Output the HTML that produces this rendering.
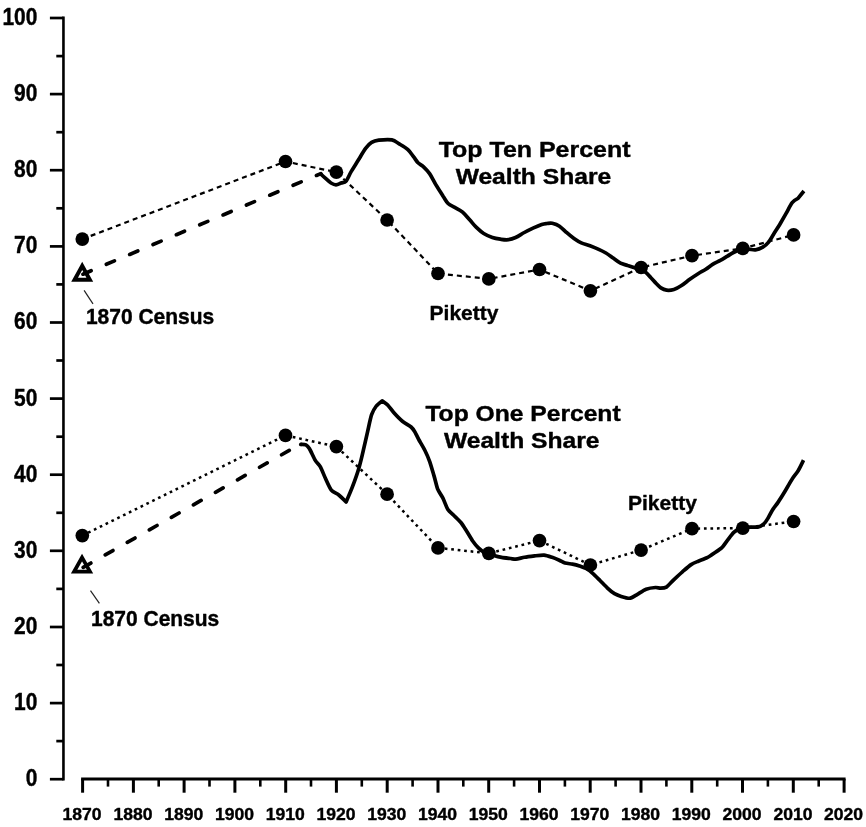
<!DOCTYPE html>
<html lang="en"><head><meta charset="utf-8"><title>Wealth Share</title>
<style>html,body{margin:0;padding:0;background:#fff}svg{display:block}</style>
</head><body>
<svg width="866" height="827" viewBox="0 0 866 827">
<rect width="866" height="827" fill="#fff"/>
<g stroke="#000" fill="none" stroke-linecap="butt">
<path stroke-width="2.6" d="M63.45 16.6 V780.6"/>
<path stroke-width="2.7" d="M49.9 779.2 H63.45"/>
<path stroke-width="2.7" d="M56.3 741.1 H63.45"/>
<path stroke-width="2.7" d="M49.9 703.1 H63.45"/>
<path stroke-width="2.7" d="M56.3 665.0 H63.45"/>
<path stroke-width="2.7" d="M49.9 627.0 H63.45"/>
<path stroke-width="2.7" d="M56.3 588.9 H63.45"/>
<path stroke-width="2.7" d="M49.9 550.8 H63.45"/>
<path stroke-width="2.7" d="M56.3 512.8 H63.45"/>
<path stroke-width="2.7" d="M49.9 474.7 H63.45"/>
<path stroke-width="2.7" d="M56.3 436.7 H63.45"/>
<path stroke-width="2.7" d="M49.9 398.6 H63.45"/>
<path stroke-width="2.7" d="M56.3 360.5 H63.45"/>
<path stroke-width="2.7" d="M49.9 322.5 H63.45"/>
<path stroke-width="2.7" d="M56.3 284.4 H63.45"/>
<path stroke-width="2.7" d="M49.9 246.4 H63.45"/>
<path stroke-width="2.7" d="M56.3 208.3 H63.45"/>
<path stroke-width="2.7" d="M49.9 170.2 H63.45"/>
<path stroke-width="2.7" d="M56.3 132.2 H63.45"/>
<path stroke-width="2.7" d="M49.9 94.1 H63.45"/>
<path stroke-width="2.7" d="M56.3 56.1 H63.45"/>
<path stroke-width="2.7" d="M49.9 18.0 H63.45"/>
<path stroke-width="3" d="M81.1 779.1 H845.6"/>
<path stroke-width="3" d="M82.6 779.1 V792.7"/>
<path stroke-width="2.6" d="M108.0 779.1 V786.6"/>
<path stroke-width="3" d="M133.4 779.1 V792.7"/>
<path stroke-width="2.6" d="M158.7 779.1 V786.6"/>
<path stroke-width="3" d="M184.1 779.1 V792.7"/>
<path stroke-width="2.6" d="M209.5 779.1 V786.6"/>
<path stroke-width="3" d="M234.9 779.1 V792.7"/>
<path stroke-width="2.6" d="M260.3 779.1 V786.6"/>
<path stroke-width="3" d="M285.7 779.1 V792.7"/>
<path stroke-width="2.6" d="M311.0 779.1 V786.6"/>
<path stroke-width="3" d="M336.4 779.1 V792.7"/>
<path stroke-width="2.6" d="M361.8 779.1 V786.6"/>
<path stroke-width="3" d="M387.2 779.1 V792.7"/>
<path stroke-width="2.6" d="M412.6 779.1 V786.6"/>
<path stroke-width="3" d="M438.0 779.1 V792.7"/>
<path stroke-width="2.6" d="M463.3 779.1 V786.6"/>
<path stroke-width="3" d="M488.7 779.1 V792.7"/>
<path stroke-width="2.6" d="M514.1 779.1 V786.6"/>
<path stroke-width="3" d="M539.5 779.1 V792.7"/>
<path stroke-width="2.6" d="M564.9 779.1 V786.6"/>
<path stroke-width="3" d="M590.2 779.1 V792.7"/>
<path stroke-width="2.6" d="M615.6 779.1 V786.6"/>
<path stroke-width="3" d="M641.0 779.1 V792.7"/>
<path stroke-width="2.6" d="M666.4 779.1 V786.6"/>
<path stroke-width="3" d="M691.8 779.1 V792.7"/>
<path stroke-width="2.6" d="M717.2 779.1 V786.6"/>
<path stroke-width="3" d="M742.5 779.1 V792.7"/>
<path stroke-width="2.6" d="M767.9 779.1 V786.6"/>
<path stroke-width="3" d="M793.3 779.1 V792.7"/>
<path stroke-width="2.6" d="M818.7 779.1 V786.6"/>
<path stroke-width="3" d="M844.1 779.1 V792.7"/>
</g>
<g font-family="'Liberation Sans', Arial, Helvetica, sans-serif" font-weight="bold" fill="#000" stroke="#000" stroke-linejoin="round">
<text transform="translate(37.4 786.1) scale(0.895 1)" font-size="23.4" text-anchor="end" stroke-width="0.40">0</text>
<text transform="translate(37.4 710.0) scale(0.895 1)" font-size="23.4" text-anchor="end" stroke-width="0.40">10</text>
<text transform="translate(37.4 633.9) scale(0.895 1)" font-size="23.4" text-anchor="end" stroke-width="0.40">20</text>
<text transform="translate(37.4 557.7) scale(0.895 1)" font-size="23.4" text-anchor="end" stroke-width="0.40">30</text>
<text transform="translate(37.4 481.6) scale(0.895 1)" font-size="23.4" text-anchor="end" stroke-width="0.40">40</text>
<text transform="translate(37.4 405.5) scale(0.895 1)" font-size="23.4" text-anchor="end" stroke-width="0.40">50</text>
<text transform="translate(37.4 329.4) scale(0.895 1)" font-size="23.4" text-anchor="end" stroke-width="0.40">60</text>
<text transform="translate(37.4 253.3) scale(0.895 1)" font-size="23.4" text-anchor="end" stroke-width="0.40">70</text>
<text transform="translate(37.4 177.1) scale(0.895 1)" font-size="23.4" text-anchor="end" stroke-width="0.40">80</text>
<text transform="translate(37.4 101.0) scale(0.895 1)" font-size="23.4" text-anchor="end" stroke-width="0.40">90</text>
<text transform="translate(37.4 24.9) scale(0.895 1)" font-size="23.4" text-anchor="end" stroke-width="0.40">100</text>
<text transform="translate(82.1 819.7) scale(1.015 1)" font-size="17.3" text-anchor="middle" stroke-width="0.40">1870</text>
<text transform="translate(132.9 819.7) scale(1.015 1)" font-size="17.3" text-anchor="middle" stroke-width="0.40">1880</text>
<text transform="translate(183.7 819.7) scale(1.015 1)" font-size="17.3" text-anchor="middle" stroke-width="0.40">1890</text>
<text transform="translate(234.4 819.7) scale(1.015 1)" font-size="17.3" text-anchor="middle" stroke-width="0.40">1900</text>
<text transform="translate(285.2 819.7) scale(1.015 1)" font-size="17.3" text-anchor="middle" stroke-width="0.40">1910</text>
<text transform="translate(336.0 819.7) scale(1.015 1)" font-size="17.3" text-anchor="middle" stroke-width="0.40">1920</text>
<text transform="translate(386.7 819.7) scale(1.015 1)" font-size="17.3" text-anchor="middle" stroke-width="0.40">1930</text>
<text transform="translate(437.5 819.7) scale(1.015 1)" font-size="17.3" text-anchor="middle" stroke-width="0.40">1940</text>
<text transform="translate(488.3 819.7) scale(1.015 1)" font-size="17.3" text-anchor="middle" stroke-width="0.40">1950</text>
<text transform="translate(539.0 819.7) scale(1.015 1)" font-size="17.3" text-anchor="middle" stroke-width="0.40">1960</text>
<text transform="translate(589.8 819.7) scale(1.015 1)" font-size="17.3" text-anchor="middle" stroke-width="0.40">1970</text>
<text transform="translate(640.6 819.7) scale(1.015 1)" font-size="17.3" text-anchor="middle" stroke-width="0.40">1980</text>
<text transform="translate(691.3 819.7) scale(1.015 1)" font-size="17.3" text-anchor="middle" stroke-width="0.40">1990</text>
<text transform="translate(742.1 819.7) scale(1.015 1)" font-size="17.3" text-anchor="middle" stroke-width="0.40">2000</text>
<text transform="translate(792.9 819.7) scale(1.015 1)" font-size="17.3" text-anchor="middle" stroke-width="0.40">2010</text>
<text transform="translate(843.6 819.7) scale(1.015 1)" font-size="17.3" text-anchor="middle" stroke-width="0.40">2020</text>
<text transform="translate(534.6 157.3) scale(1.120 1)" font-size="22.3" text-anchor="middle" stroke-width="0.40">Top Ten Percent</text>
<text transform="translate(533.4 183.9) scale(1.105 1)" font-size="22.3" text-anchor="middle" stroke-width="0.40">Wealth Share</text>
<text transform="translate(523.0 421.0) scale(1.105 1)" font-size="22.3" text-anchor="middle" stroke-width="0.40">Top One Percent</text>
<text transform="translate(521.7 447.7) scale(1.105 1)" font-size="22.3" text-anchor="middle" stroke-width="0.40">Wealth Share</text>
<text transform="translate(85.9 323.5) scale(0.990 1)" font-size="21.2" text-anchor="start" stroke-width="0.40">1870 Census</text>
<text transform="translate(91.0 626.4) scale(0.990 1)" font-size="21.2" text-anchor="start" stroke-width="0.40">1870 Census</text>
<text transform="translate(429.6 320.1) scale(1.000 1)" font-size="21.0" text-anchor="start" stroke-width="0.40">Piketty</text>
<text transform="translate(628.0 510.2) scale(1.000 1)" font-size="21.0" text-anchor="start" stroke-width="0.40">Piketty</text>
</g>
<g stroke="#222" stroke-width="1.2" fill="none">
<path d="M84.1 290.4 L93 303.9"/>
<path d="M90.5 590.7 L99.4 603.4"/>
</g>
<path d="M82.3 239.1 L285.5 161.5 L336.4 172.2 L387.1 220.0 L438.0 273.5 L488.8 278.9 L539.5 269.5 L590.4 290.8 L641.1 267.5 L692.0 255.7 L742.8 248.4 L793.6 234.9" fill="none" stroke="#000" stroke-width="2.2" stroke-dasharray="5 4"/>
<path d="M82.3 535.6 L285.5 435.4 L336.4 446.6 L387.1 494.2 L438.0 547.9 L488.8 553.3 L539.5 540.6 L590.4 565.0 L641.1 550.1 L692.0 528.7 L742.8 528.1 L793.6 521.5" fill="none" stroke="#000" stroke-width="2.5" stroke-dasharray="2.7 3.8"/>
<g fill="none" stroke="#000" stroke-width="3.7" stroke-linecap="round" stroke-dasharray="8.8 16.55">
<path d="M83.0 274.2 L320.8 173.6"/>
<path d="M83.2 567.4 L300 444.3"/>
</g>
<g fill="none" stroke="#000" stroke-width="3.7" stroke-linejoin="round" stroke-linecap="butt">
<path d="M320.8 174.0 C321.6 174.8 324.2 177.2 325.9 178.7 C327.6 180.2 329.3 182.0 331.0 183.0 C332.7 184.0 334.3 184.8 336.0 184.8 C337.7 184.8 339.4 183.7 341.1 183.0 C342.8 182.3 344.5 182.8 346.2 180.9 C347.9 179.0 349.2 174.9 351.3 171.4 C353.4 167.9 356.1 163.7 358.5 159.8 C360.9 155.9 363.6 151.1 365.8 148.2 C368.0 145.3 369.4 143.7 371.6 142.4 C373.8 141.1 375.4 140.6 378.8 140.2 C382.2 139.8 388.5 139.3 391.9 139.9 C395.3 140.5 396.5 142.3 399.2 143.9 C401.9 145.5 405.5 147.5 407.9 149.7 C410.3 151.9 412.0 154.7 413.7 156.9 C415.4 159.1 416.3 161.0 418.0 162.7 C419.7 164.4 421.9 165.3 423.8 167.1 C425.7 168.9 427.6 170.7 429.6 173.6 C431.6 176.5 433.6 180.8 435.8 184.6 C438.1 188.4 441.1 193.0 443.1 196.2 C445.2 199.3 446.2 201.6 448.1 203.5 C450.0 205.4 452.3 206.0 454.7 207.4 C457.1 208.8 460.1 210.1 462.6 212.2 C465.1 214.3 467.6 217.6 469.9 220.1 C472.2 222.6 474.1 225.2 476.4 227.4 C478.7 229.6 481.0 231.8 483.7 233.5 C486.4 235.2 489.5 236.5 492.4 237.5 C495.3 238.5 498.4 238.9 501.1 239.3 C503.8 239.7 506.0 240.0 508.4 239.7 C510.8 239.4 513.0 238.7 515.6 237.5 C518.2 236.3 521.4 234.1 524.3 232.5 C527.2 230.9 530.1 229.4 533.0 228.1 C535.9 226.8 539.4 225.3 541.7 224.5 C544.0 223.7 545.2 223.7 547.0 223.5 C548.8 223.3 550.2 222.9 552.3 223.3 C554.4 223.8 557.1 224.6 559.5 226.2 C561.9 227.8 564.4 230.6 566.8 232.7 C569.2 234.8 571.6 236.8 574.0 238.5 C576.4 240.2 578.6 241.7 581.3 242.9 C584.0 244.1 587.1 244.7 590.0 245.8 C592.9 246.9 596.1 248.2 598.7 249.4 C601.4 250.6 603.5 251.6 605.9 253.0 C608.3 254.4 610.8 256.4 613.2 258.1 C615.6 259.8 618.1 262.0 620.5 263.2 C622.9 264.4 625.1 264.5 627.7 265.4 C630.4 266.2 633.5 267.2 636.4 268.3 C639.3 269.4 642.7 270.3 645.1 271.9 C647.5 273.5 649.0 275.8 650.9 277.7 C652.8 279.6 654.5 281.8 656.2 283.5 C657.9 285.2 659.2 286.8 660.9 287.9 C662.6 289.0 664.4 289.9 666.6 290.2 C668.8 290.5 671.5 290.2 673.9 289.5 C676.3 288.8 678.5 287.5 681.1 285.8 C683.8 284.1 686.9 281.4 689.8 279.3 C692.7 277.2 695.8 275.2 698.5 273.5 C701.2 271.8 703.4 270.8 705.8 269.2 C708.2 267.6 710.6 265.6 713.0 264.1 C715.4 262.6 717.9 261.7 720.3 260.4 C722.7 259.1 725.3 257.4 727.5 256.1 C729.7 254.8 731.2 253.6 733.4 252.5 C735.6 251.4 738.2 250.2 740.6 249.6 C743.0 249.0 745.4 249.1 747.9 249.1 C750.4 249.1 753.0 250.1 755.5 249.8 C758.0 249.5 760.6 248.5 762.8 247.2 C765.0 245.9 766.8 244.3 768.6 242.1 C770.4 239.9 771.6 237.4 773.6 234.2 C775.6 231.0 778.5 226.6 780.6 223.0 C782.7 219.4 784.5 216.3 786.4 212.9 C788.3 209.5 790.3 205.1 792.2 202.7 C794.1 200.3 798.0 198.4 798.0 198.4 C798.0 198.4 802.9 192.2 803.9 191.0"/>
<path d="M300.8 444.4 C301.4 444.4 304.9 444.3 305.9 444.8 C306.9 445.3 308.4 446.9 309.5 448.8 C310.6 450.7 314.0 458.2 315.3 460.4 C316.6 462.6 319.2 464.7 320.4 466.9 C321.6 469.1 324.2 475.7 325.5 478.5 C326.8 481.3 329.7 488.1 331.3 490.1 C332.9 492.1 336.7 493.4 338.5 494.8 C340.3 496.2 346.1 502.0 346.1 502.0 C346.1 502.0 350.8 491.2 352.3 487.2 C353.8 483.2 357.5 472.8 358.8 468.4 C360.1 464.0 362.2 455.3 363.2 450.9 C364.2 446.5 366.5 436.4 367.5 432.1 C368.5 427.8 370.5 417.8 371.6 414.7 C372.7 411.6 375.0 407.7 376.3 406.0 C377.6 404.3 382.1 400.9 382.1 400.9 C382.1 400.9 386.5 403.8 387.9 405.2 C389.3 406.6 392.0 410.6 393.7 412.5 C395.4 414.4 400.3 419.5 402.4 421.2 C404.5 422.9 409.6 425.7 411.1 427.0 C412.6 428.3 414.1 430.5 415.0 432.1 C415.9 433.7 417.8 437.9 419.0 440.0 C420.2 442.1 423.4 447.4 424.7 450.0 C426.0 452.6 428.6 458.5 429.7 461.6 C430.8 464.7 433.1 472.8 434.1 476.1 C435.1 479.4 436.7 486.6 437.7 489.2 C438.7 491.8 441.6 495.5 442.8 497.9 C444.0 500.3 446.6 507.4 447.9 509.5 C449.2 511.6 452.1 513.7 453.7 515.3 C455.3 516.9 459.3 520.6 460.9 522.5 C462.5 524.4 465.3 529.1 466.7 531.3 C468.1 533.5 471.1 538.7 472.5 540.7 C473.9 542.7 477.0 546.5 478.4 547.9 C479.8 549.3 482.5 551.4 484.2 552.3 C485.9 553.2 490.8 554.6 492.9 555.2 C495.0 555.8 499.5 557.0 501.6 557.4 C503.7 557.8 508.8 558.3 510.5 558.5 C512.2 558.7 514.1 559.3 515.8 559.2 C517.5 559.1 522.2 557.7 524.5 557.3 C526.8 556.9 532.3 556.2 534.7 555.9 C537.1 555.6 542.0 554.9 544.1 555.1 C546.2 555.3 550.3 556.7 552.1 557.3 C553.9 557.9 557.7 559.5 559.3 560.2 C560.9 560.9 563.5 562.6 565.1 563.1 C566.7 563.6 570.7 563.8 572.4 564.1 C574.1 564.4 577.9 565.4 579.6 566.0 C581.3 566.6 585.3 568.0 586.9 568.9 C588.5 569.8 591.1 571.9 592.7 573.3 C594.3 574.7 598.3 578.8 600.0 580.5 C601.7 582.2 605.5 586.2 607.2 587.8 C608.9 589.4 612.8 592.6 614.5 593.6 C616.2 594.6 619.3 595.8 621.2 596.4 C623.1 597.0 628.3 598.5 630.2 598.2 C632.1 597.9 635.5 595.4 637.4 594.3 C639.3 593.2 643.9 590.0 646.1 589.2 C648.3 588.4 653.8 587.6 655.5 587.5 C657.2 587.4 659.3 588.2 660.6 588.2 C661.9 588.2 664.8 588.1 666.4 587.1 C668.0 586.1 671.8 581.6 673.7 579.8 C675.6 578.0 680.3 573.6 682.4 571.8 C684.5 570.0 689.2 565.9 691.1 564.6 C693.0 563.3 696.4 562.0 698.3 561.2 C700.2 560.4 705.2 558.7 707.1 557.7 C709.0 556.7 712.6 554.2 714.3 553.0 C716.0 551.8 720.0 549.4 721.6 547.9 C723.2 546.4 725.9 542.3 727.4 540.4 C728.9 538.5 732.1 534.0 733.8 532.4 C735.5 530.8 739.8 528.0 741.8 527.4 C743.8 526.8 748.6 527.1 750.5 527.1 C752.4 527.1 756.1 527.4 757.7 527.1 C759.3 526.8 762.3 525.2 763.5 524.2 C764.7 523.2 766.9 520.1 767.9 518.4 C768.9 516.7 771.0 512.3 772.2 510.4 C773.4 508.5 776.4 504.8 778.0 502.4 C779.6 500.0 783.6 493.7 785.3 490.8 C787.0 487.9 790.9 480.9 792.5 478.5 C794.1 476.1 797.0 472.7 798.3 470.5 C799.6 468.3 802.9 461.4 803.5 460.2"/>
</g>
<g fill="#000">
<circle cx="320.8" cy="174.0" r="1.85"/>
<circle cx="300.8" cy="444.4" r="1.85"/>
<circle cx="82.3" cy="239.1" r="6.85"/>
<circle cx="285.5" cy="161.5" r="6.85"/>
<circle cx="336.4" cy="172.2" r="6.85"/>
<circle cx="387.1" cy="220.0" r="6.85"/>
<circle cx="438.0" cy="273.5" r="6.85"/>
<circle cx="488.8" cy="278.9" r="6.85"/>
<circle cx="539.5" cy="269.5" r="6.85"/>
<circle cx="590.4" cy="290.8" r="6.85"/>
<circle cx="641.1" cy="267.5" r="6.85"/>
<circle cx="692.0" cy="255.7" r="6.85"/>
<circle cx="742.8" cy="248.4" r="6.85"/>
<circle cx="793.6" cy="234.9" r="6.85"/>
<circle cx="82.3" cy="535.6" r="6.85"/>
<circle cx="285.5" cy="435.4" r="6.85"/>
<circle cx="336.4" cy="446.6" r="6.85"/>
<circle cx="387.1" cy="494.2" r="6.85"/>
<circle cx="438.0" cy="547.9" r="6.85"/>
<circle cx="488.8" cy="553.3" r="6.85"/>
<circle cx="539.5" cy="540.6" r="6.85"/>
<circle cx="590.4" cy="565.0" r="6.85"/>
<circle cx="641.1" cy="550.1" r="6.85"/>
<circle cx="692.0" cy="528.7" r="6.85"/>
<circle cx="742.8" cy="528.1" r="6.85"/>
<circle cx="793.6" cy="521.5" r="6.85"/>
</g>
<g fill="none" stroke="#000" stroke-width="3" stroke-linejoin="miter">
<path stroke-width="4" d="M82.2 265.9 L74.6 279.7 H89.8 Z"/>
<path stroke-width="3.75" d="M82.05 557.5 L74.1 571.7 H90 Z"/>
</g>
</svg>
</body></html>
